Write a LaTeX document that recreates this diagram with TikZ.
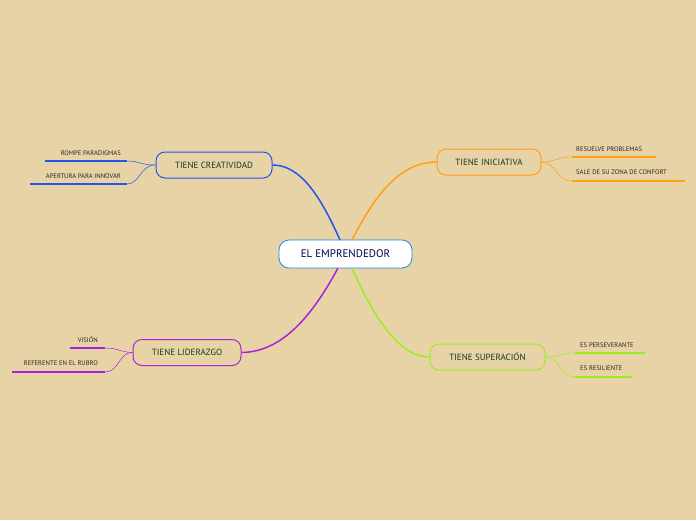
\documentclass[tikz,border=0pt]{standalone}
\usepackage{fontspec}
\setmainfont{PT Sans}
\definecolor{bg}{HTML}{E8D3A7}
\definecolor{cb}{HTML}{2255EE}
\definecolor{co}{HTML}{FFA011}
\definecolor{cg}{HTML}{99EE22}
\definecolor{cp}{HTML}{AA22DD}
\definecolor{tg}{HTML}{0B3D1E}
\tikzset{
  branch/.style={draw=#1,line width=1pt,rounded corners=9pt,fill=bg,text=tg,font=\fontsize{9}{10}\selectfont,minimum height=26pt,inner xsep=7pt},
  leaf/.style={font=\fontsize{6.6}{7}\selectfont,text=black!85,inner sep=1pt},
  uline/.style={draw=#1,line width=1.6pt},
  thin/.style={draw=#1,line width=0.5pt},
  main/.style={draw=#1,line width=1.5pt}
}
\begin{document}
\begin{tikzpicture}[x=1pt,y=-1pt]
\fill[bg] (0,0) rectangle (696,520);
\useasboundingbox (0,0) rectangle (696,520);
\node[draw=cb!70!cyan,line width=0.8pt,rounded corners=10pt,fill=white,text=blue!30!black,font=\fontsize{11}{12}\selectfont,minimum width=133pt,minimum height=28pt] (c) at (345.5,254) {EL EMPRENDEDOR};
\node[branch=cb,minimum width=116pt] (cr) at (214,165) {TIENE CREATIVIDAD};
\node[branch=co,minimum width=104pt] (in) at (489,162) {TIENE INICIATIVA};
\node[branch=cg,minimum width=115pt] (su) at (487.5,357) {TIENE SUPERACIÓN};
\node[branch=cp,minimum width=108pt] (li) at (187,352.5) {TIENE LIDERAZGO};
\draw[main=cb] (340,240) .. controls (320,195) and (300,165) .. (cr.east);
\draw[main=co] (352,240) .. controls (375,195) and (400,162) .. (in.west);
\draw[main=cg] (352,268) .. controls (375,320) and (400,357) .. (su.west);
\draw[main=cp] (338,268) .. controls (310,320) and (280,352) .. (li.east);
% leaves
\coordinate (r1a) at (45,161); \coordinate (r1b) at (127,161);
\coordinate (r2a) at (30,184); \coordinate (r2b) at (127,184);
\draw[uline=cb] (r1a)--(r1b); \draw[uline=cb] (r2a)--(r2b);
\node[leaf,anchor=east] (t1) at (122,153) {ROMPE PARADIGMAS};
\node[leaf,anchor=east] (t2) at (122,176) {APERTURA PARA INNOVAR};
\draw[thin=cb] (cr.west) .. controls (140,165) and (140,161) .. (r1b);
\draw[thin=cb] (cr.west) .. controls (140,165) and (140,184) .. (r2b);
\coordinate (i1a) at (572,157); \coordinate (i1b) at (656,157);
\coordinate (i2a) at (572,181); \coordinate (i2b) at (685,181);
\draw[uline=co] (i1a)--(i1b); \draw[uline=co] (i2a)--(i2b);
\node[leaf,anchor=west] at (575,149) {RESUELVE PROBLEMAS};
\node[leaf,anchor=west] at (575,172) {SALE DE SU ZONA DE CONFORT};
\draw[thin=co] (in.east) .. controls (556,162) and (556,157) .. (i1a);
\draw[thin=co] (in.east) .. controls (556,162) and (556,181) .. (i2a);
\coordinate (s1a) at (575,353); \coordinate (s1b) at (645,353);
\coordinate (s2a) at (575,377); \coordinate (s2b) at (632,377);
\draw[uline=cg] (s1a)--(s1b); \draw[uline=cg] (s2a)--(s2b);
\node[leaf,anchor=west] at (579,345) {ES PERSEVERANTE};
\node[leaf,anchor=west] at (579,368) {ES RESILIENTE};
\draw[thin=cg] (su.east) .. controls (560,357) and (560,353) .. (s1a);
\draw[thin=cg] (su.east) .. controls (560,357) and (560,377) .. (s2a);
\coordinate (l1a) at (70,348); \coordinate (l1b) at (105,348);
\coordinate (l2a) at (12,372); \coordinate (l2b) at (105,372);
\draw[uline=cp] (l1a)--(l1b); \draw[uline=cp] (l2a)--(l2b);
\node[leaf,anchor=east] at (99,340) {VISIÓN};
\node[leaf,anchor=east] at (99,363) {REFERENTE EN EL RUBRO};
\draw[thin=cp] (li.west) .. controls (119,352) and (119,348) .. (l1b);
\draw[thin=cp] (li.west) .. controls (119,352) and (119,372) .. (l2b);
\end{tikzpicture}
\end{document}
